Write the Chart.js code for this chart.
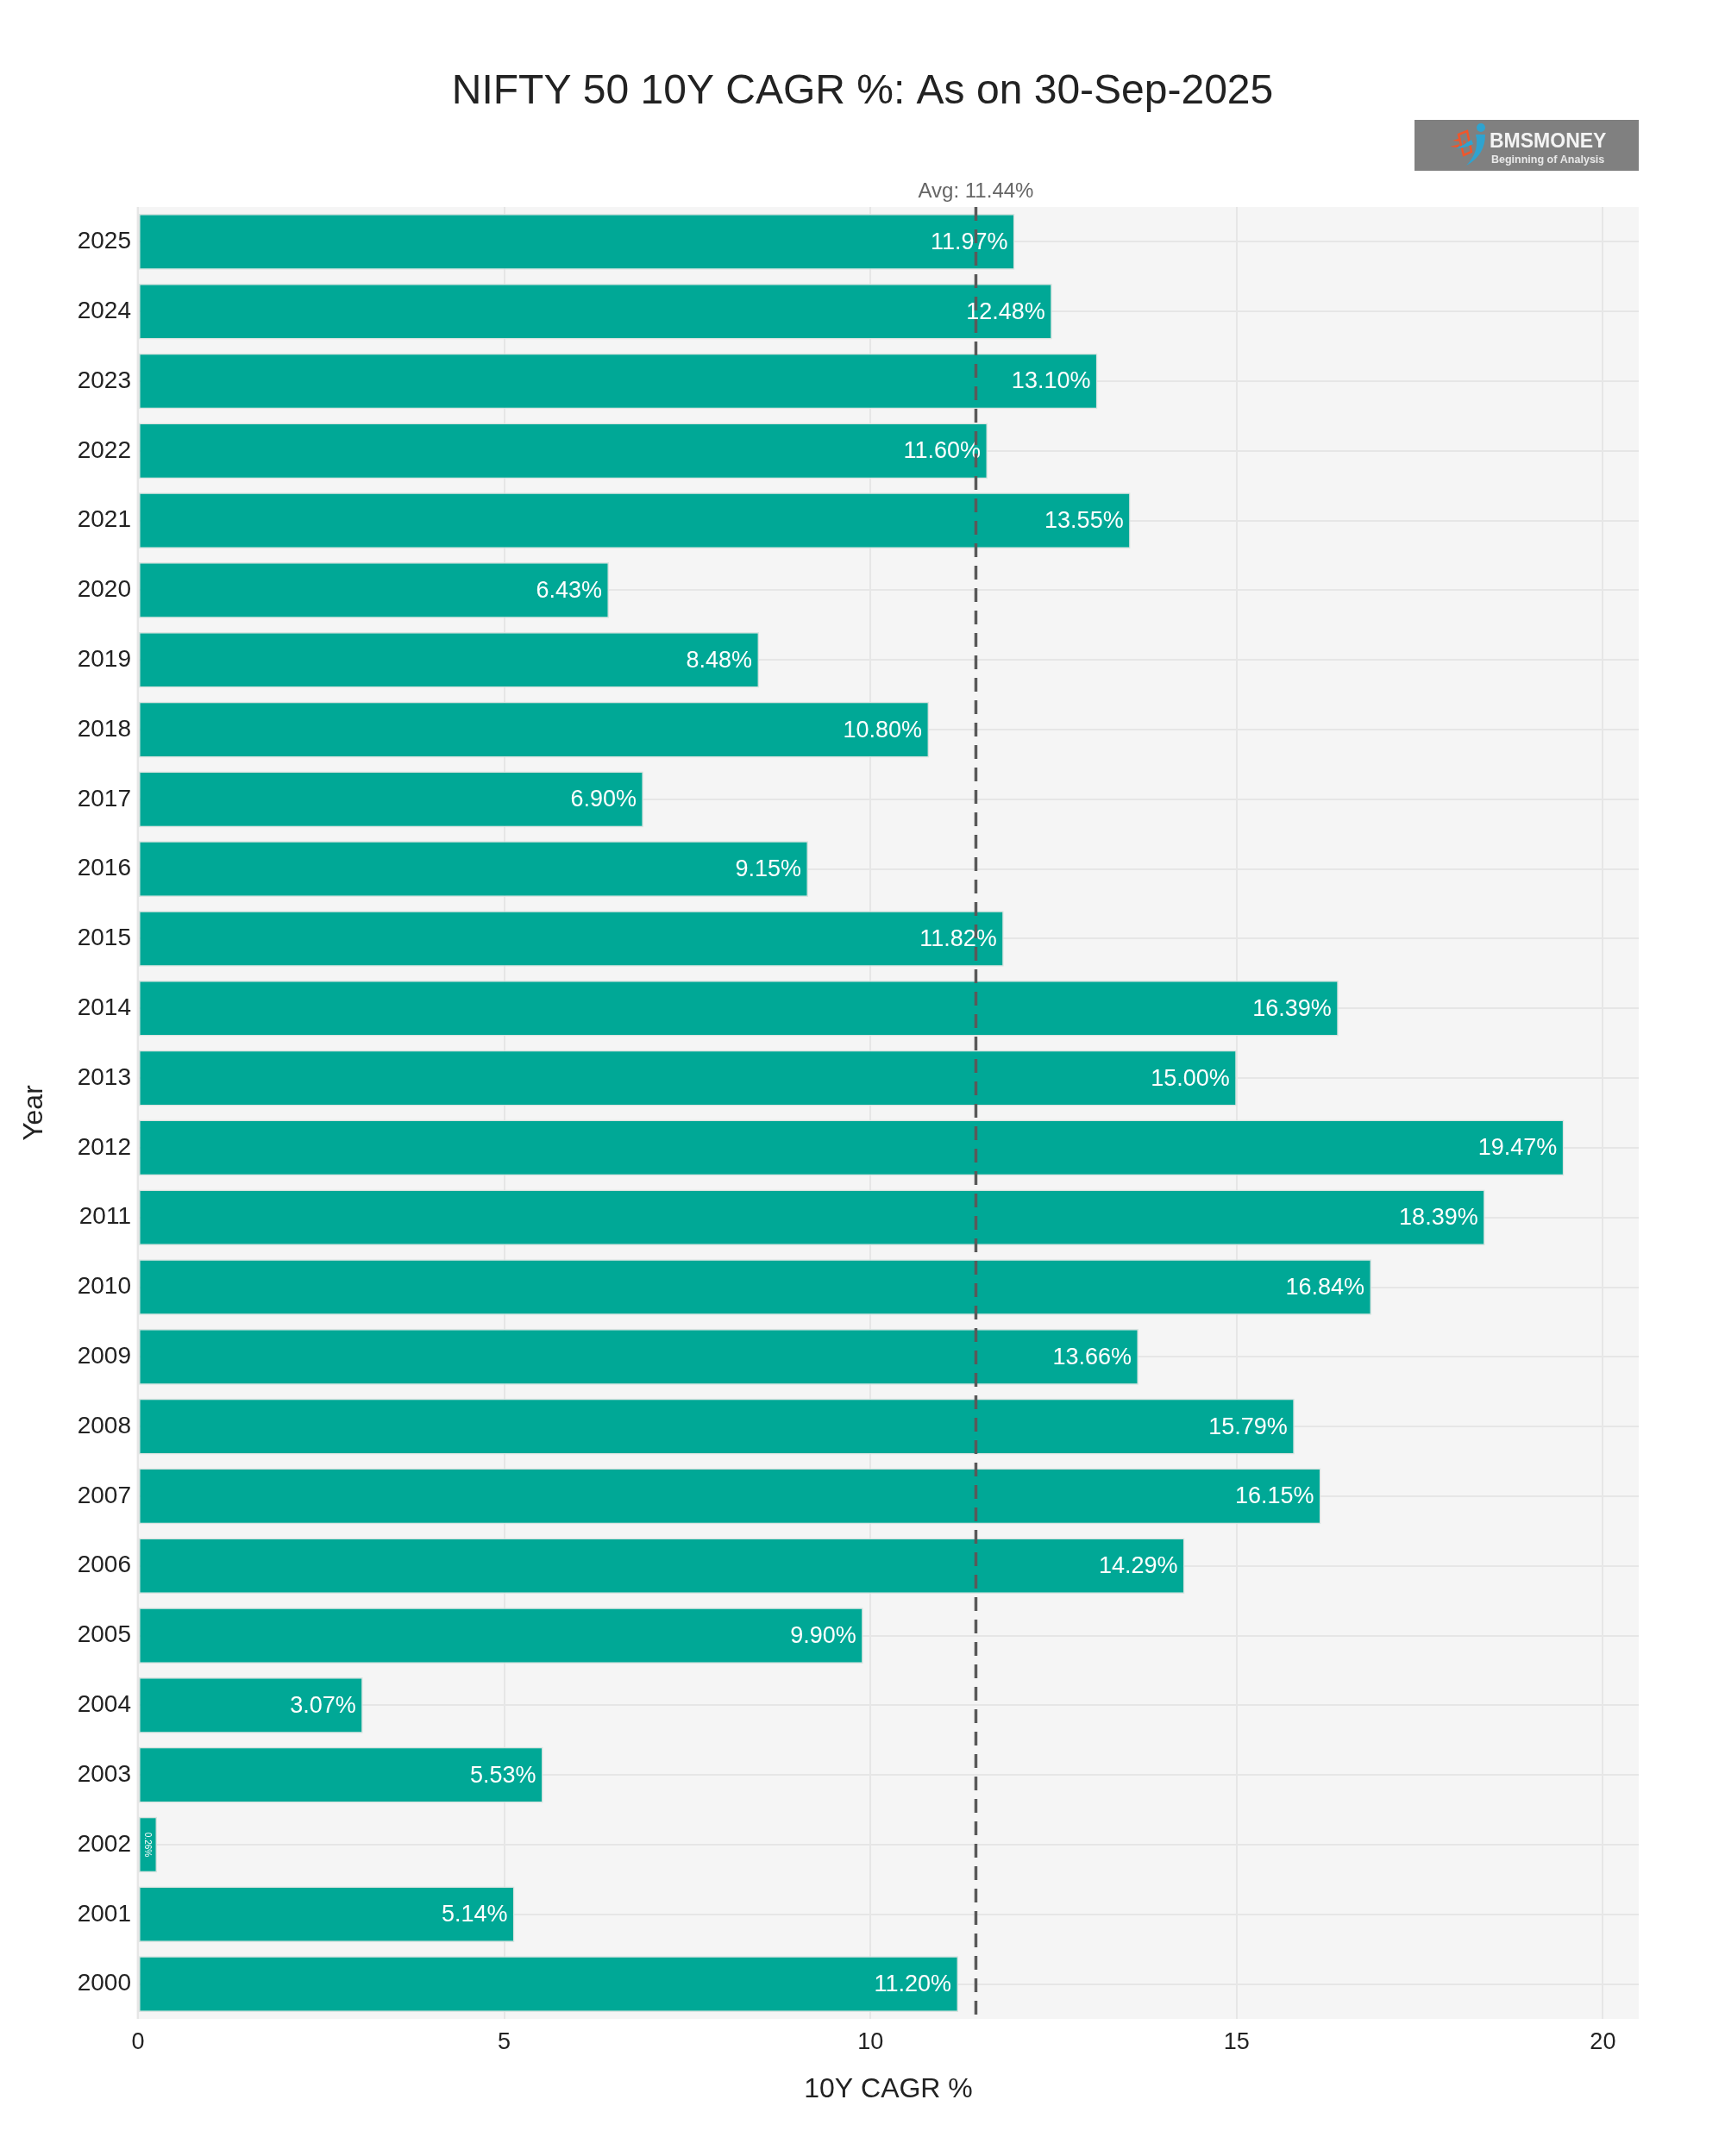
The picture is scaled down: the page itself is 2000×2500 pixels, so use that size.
<!DOCTYPE html>
<html>
<head>
<meta charset="utf-8">
<script src="https://cdn.jsdelivr.net/npm/chart.js@4"></script>
<style>
  html, body { margin: 0; padding: 0; background: #ffffff; }
  #wrap { width: 2000px; height: 2500px; position: relative; }
</style>
</head>
<body>
<div id="wrap"><canvas id="c"></canvas></div>
<script>
// ---- data ----
const years = ['2025','2024','2023','2022','2021','2020','2019','2018','2017','2016','2015','2014','2013',
               '2012','2011','2010','2009','2008','2007','2006','2005','2004','2003','2002','2001','2000'];
const cagr = [11.97, 12.48, 13.10, 11.60, 13.55, 6.43, 8.48, 10.80, 6.90, 9.15, 11.82, 16.39, 15.00,
              19.47, 18.39, 16.84, 13.66, 15.79, 16.15, 14.29, 9.90, 3.07, 5.53, 0.26, 5.14, 11.20];
const avgValue = 11.44;
const xTicks = [0, 5, 10, 15, 20];
const titleText = 'NIFTY 50 10Y CAGR %: As on 30-Sep-2025';
const xTitle = '10Y CAGR %';
const yTitle = 'Year';

const FONT = "'Liberation Sans', Arial, Helvetica, sans-serif";
const BAR = '#00a896';

const plotBg = {
  id: 'plotBg',
  beforeDraw(chart) {
    const {ctx, chartArea: a} = chart;
    ctx.save();
    ctx.fillStyle = '#f5f5f5';
    ctx.fillRect(a.left - 2, a.top, a.right - a.left + 2, a.bottom - a.top);
    ctx.restore();
  }
};

const pageTitle = {
  id: 'pageTitle',
  afterDraw(chart) {
    const {ctx} = chart;
    ctx.save();
    ctx.fillStyle = '#222222';
    ctx.font = '48px ' + FONT;
    ctx.textAlign = 'center';
    ctx.textBaseline = 'middle';
    ctx.fillText(titleText, chart.width / 2, 107);
    ctx.restore();
  }
};

const barLabels = {
  id: 'barLabels',
  afterDatasetsDraw(chart) {
    const {ctx} = chart;
    const meta = chart.getDatasetMeta(0);
    ctx.save();
    meta.data.forEach((bar, i) => {
      const txt = cagr[i].toFixed(2) + '%';
      const left = chart.scales.x.getPixelForValue(0);
      const w = bar.x - left;
      ctx.fillStyle = '#ffffff';
      ctx.font = '27px ' + FONT;
      const tw = ctx.measureText(txt).width;
      if (tw + 16 <= w) {
        ctx.textAlign = 'right';
        ctx.textBaseline = 'middle';
        ctx.fillText(txt, bar.x - 8, bar.y + 1);
      } else {
        ctx.save();
        ctx.translate((bar.x + left) / 2, bar.y);
        ctx.rotate(Math.PI / 2);
        ctx.font = '10px ' + FONT;
        ctx.textAlign = 'center';
        ctx.textBaseline = 'middle';
        ctx.fillText(txt, 0, 0);
        ctx.restore();
      }
    });
    ctx.restore();
  }
};

const avgLine = {
  id: 'avgLine',
  afterDatasetsDraw(chart) {
    const {ctx, chartArea: a} = chart;
    const x = chart.scales.x.getPixelForValue(avgValue);
    ctx.save();
    ctx.strokeStyle = '#595959';
    ctx.lineWidth = 3.5;
    ctx.setLineDash([16, 10]);
    ctx.beginPath();
    ctx.moveTo(x, a.top);
    ctx.lineTo(x, a.bottom);
    ctx.stroke();
    ctx.setLineDash([]);
    ctx.fillStyle = '#666666';
    ctx.font = '24px ' + FONT;
    ctx.textAlign = 'center';
    ctx.textBaseline = 'middle';
    ctx.fillText('Avg: ' + avgValue.toFixed(2) + '%', x, a.top - 18);
    ctx.restore();
  }
};

const logo = {
  id: 'logo',
  afterDraw(chart) {
    const {ctx} = chart;
    ctx.save();
    ctx.fillStyle = '#808080';
    ctx.fillRect(1640, 139, 260, 59);
    // icon: orange "money" shape
    ctx.strokeStyle = '#f0562b';
    ctx.fillStyle = '#f0562b';
    ctx.lineWidth = 2.5;
    ctx.beginPath();
    ctx.moveTo(1691, 156); ctx.lineTo(1701, 152); ctx.lineTo(1706, 176); ctx.lineTo(1697, 180); ctx.closePath();
    ctx.stroke();
    ctx.beginPath();
    ctx.moveTo(1684, 163); ctx.lineTo(1694, 160); ctx.lineTo(1691, 164); ctx.closePath(); ctx.fill();
    ctx.beginPath();
    ctx.moveTo(1681, 170); ctx.lineTo(1693, 167); ctx.lineTo(1690, 171); ctx.closePath(); ctx.fill();
    ctx.font = 'bold 7px ' + FONT;
    ctx.textAlign = 'center'; ctx.textBaseline = 'middle';
    ctx.fillText('$', 1698, 166);
    // icon: blue figure
    ctx.fillStyle = '#2fa3cf';
    ctx.beginPath(); ctx.arc(1717, 148, 5, 0, Math.PI * 2); ctx.fill();
    ctx.beginPath();
    ctx.moveTo(1711, 156);
    ctx.quadraticCurveTo(1716, 175, 1700, 192);
    ctx.quadraticCurveTo(1722, 180, 1722, 156);
    ctx.closePath(); ctx.fill();
    ctx.beginPath();
    ctx.moveTo(1688, 172); ctx.quadraticCurveTo(1698, 168, 1706, 162); ctx.lineTo(1708, 167);
    ctx.quadraticCurveTo(1698, 172, 1688, 172); ctx.fill();
    // text
    ctx.fillStyle = '#f4f4f4';
    ctx.textAlign = 'left';
    ctx.textBaseline = 'alphabetic';
    ctx.font = 'bold 23px ' + FONT;
    ctx.fillText('BMSMONEY', 1727, 171);
    ctx.font = 'bold 12.5px ' + FONT;
    ctx.fillStyle = '#e8e8e8';
    ctx.fillText('Beginning of Analysis', 1729, 189);
    ctx.restore();
  }
};

new Chart(document.getElementById('c'), {
  type: 'bar',
  data: {
    labels: years,
    datasets: [{
      data: cagr,
      backgroundColor: BAR,
      borderColor: 'rgba(215,225,222,0.9)',
      borderWidth: 1.5,
      borderSkipped: false,
      categoryPercentage: 0.8,
      barPercentage: 1.0
    }]
  },
  options: {
    indexAxis: 'y',
    responsive: true,
    maintainAspectRatio: false,
    devicePixelRatio: 1,
    animation: false,
    layout: { padding: { left: 0, right: 100, top: 240, bottom: 0 } },
    plugins: {
      legend: { display: false },
      tooltip: { enabled: false },
      title: { display: false }
    },
    scales: {
      x: {
        type: 'linear',
        min: 0,
        max: 20.49,
        afterBuildTicks(scale) { scale.ticks = xTicks.map(v => ({ value: v })); },
        afterFit(scale) { scale.height = 159; },
        grid: { color: '#e6e6e6', lineWidth: 2, drawTicks: false },
        border: { display: false },
        ticks: {
          color: '#222222',
          font: { family: FONT, size: 27 },
          padding: 11,
          callback: v => String(v)
        },
        title: {
          display: true,
          text: xTitle,
          color: '#222222',
          font: { family: FONT, size: 32 },
          padding: { top: 0, bottom: 58 }
        }
      },
      y: {
        afterFit(scale) { scale.width = 160; },
        grid: { color: '#e6e6e6', lineWidth: 2, drawTicks: false, offset: false },
        border: { display: false },
        ticks: {
          color: '#222222',
          font: { family: FONT, size: 28 },
          padding: 8
        },
        title: {
          display: true,
          text: yTitle,
          color: '#222222',
          font: { family: FONT, size: 32 },
          padding: { top: 21, bottom: 0 }
        }
      }
    }
  },
  plugins: [plotBg, barLabels, avgLine, logo, pageTitle]
});
</script>
</body>
</html>
